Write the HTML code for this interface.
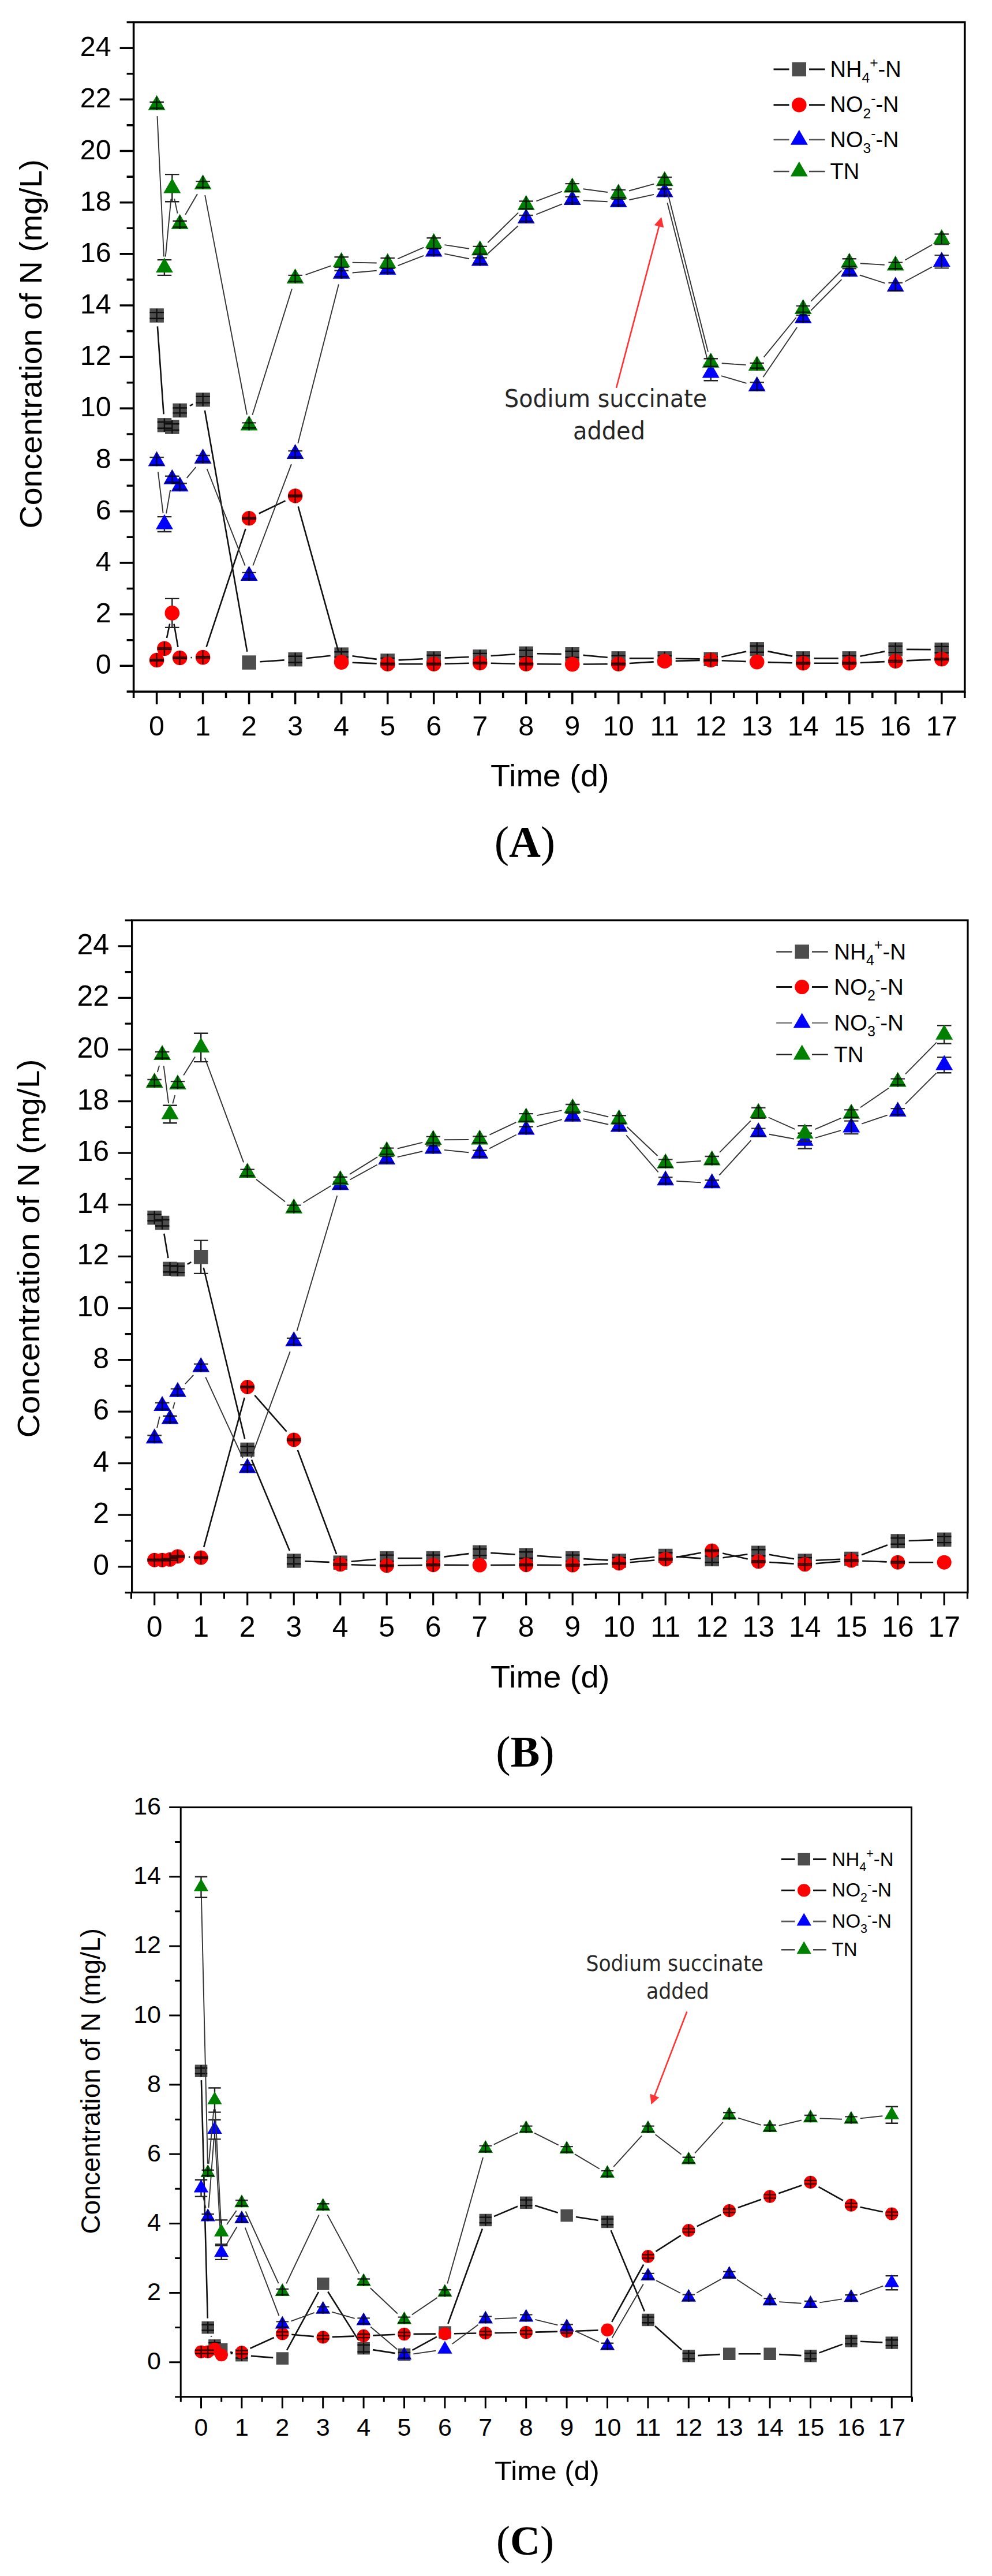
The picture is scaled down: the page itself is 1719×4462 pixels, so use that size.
<!DOCTYPE html>
<html><head><meta charset="utf-8"><title>Concentration of N over time</title>
<style>html,body{margin:0;padding:0;background:#fff}svg{display:block}</style></head>
<body>
<svg width="1719" height="4462" viewBox="0 0 1719 4462" font-family="Liberation Sans, Arial, sans-serif" fill="#000">
<rect width="1719" height="4462" fill="#fff"/>
<path d="M272.9 565.4L283.6 717.4M328.8 702.9L334.4 700.3M354.9 711L428.3 1128.8M450.6 1146.2L492.7 1143.4M530.5 1140.2L572.7 1135.7M610.5 1136.2L652.8 1141.9M690.6 1143.4L732.7 1141.3M770.6 1139.6L812.7 1138M850.6 1136L892.7 1133.2M930.7 1132.2L972.7 1132.9M1010.6 1134.9L1052.8 1138.7M1090.7 1140.4L1132.7 1140.4M1170.7 1140.7L1212.7 1141.4M1250.3 1137.7L1293.2 1128.4M1330.4 1128.1L1373.1 1136.6M1410.7 1140.4L1452.8 1140.4M1490.4 1136.7L1533.1 1128.4M1570.8 1124.9L1612.8 1125.1" stroke="#111" stroke-width="2.6" fill="none"/>
<rect x="259.4" y="534.2" width="24.5" height="24.5" fill="#4d4d4d"/>
<rect x="272.7" y="724.1" width="24.5" height="24.5" fill="#4d4d4d"/>
<rect x="286" y="727.3" width="24.5" height="24.5" fill="#4d4d4d"/>
<rect x="299.4" y="698.7" width="24.5" height="24.5" fill="#4d4d4d"/>
<rect x="339.4" y="680" width="24.5" height="24.5" fill="#4d4d4d"/>
<rect x="419.4" y="1135.3" width="24.5" height="24.5" fill="#4d4d4d"/>
<rect x="499.4" y="1129.9" width="24.5" height="24.5" fill="#4d4d4d"/>
<rect x="579.4" y="1121.4" width="24.5" height="24.5" fill="#4d4d4d"/>
<rect x="659.4" y="1132.1" width="24.5" height="24.5" fill="#4d4d4d"/>
<rect x="739.4" y="1128.1" width="24.5" height="24.5" fill="#4d4d4d"/>
<rect x="819.4" y="1125" width="24.5" height="24.5" fill="#4d4d4d"/>
<rect x="899.4" y="1119.6" width="24.5" height="24.5" fill="#4d4d4d"/>
<rect x="979.4" y="1121" width="24.5" height="24.5" fill="#4d4d4d"/>
<rect x="1059.5" y="1128.1" width="24.5" height="24.5" fill="#4d4d4d"/>
<rect x="1139.5" y="1128.1" width="24.5" height="24.5" fill="#4d4d4d"/>
<rect x="1219.5" y="1129.5" width="24.5" height="24.5" fill="#4d4d4d"/>
<rect x="1299.5" y="1112.1" width="24.5" height="24.5" fill="#4d4d4d"/>
<rect x="1379.5" y="1128.1" width="24.5" height="24.5" fill="#4d4d4d"/>
<rect x="1459.5" y="1128.1" width="24.5" height="24.5" fill="#4d4d4d"/>
<rect x="1539.5" y="1112.5" width="24.5" height="24.5" fill="#4d4d4d"/>
<rect x="1619.5" y="1113" width="24.5" height="24.5" fill="#4d4d4d"/>
<path d="M271.6 534.8V558.1M259.4 541.1H283.9M259.4 551.8H283.9M284.9 724.7V748M272.7 731H297.2M272.7 741.7H297.2M298.3 727.9V751.1M286 734.2H310.5M286 744.9H310.5M311.6 699.3V722.6M299.4 706.5H323.9M299.4 715.4H323.9M351.6 680.6V703.9M339.4 686.9H363.9M339.4 697.6H363.9M511.6 1130.5V1153.8M499.4 1136.8H523.9M499.4 1147.5H523.9M591.6 1122V1145.3M579.4 1129.2H603.9M579.4 1138.1H603.9M671.7 1132.7V1156M659.4 1139.9H683.9M659.4 1148.8H683.9M751.7 1128.7V1152M739.4 1135H763.9M739.4 1145.7H763.9M831.7 1125.6V1148.9M819.4 1131.9H843.9M819.4 1142.6H843.9M911.7 1120.3V1143.5M899.4 1126.5H923.9M899.4 1137.2H923.9M991.7 1121.6V1144.9M979.4 1127.9H1003.9M979.4 1138.6H1003.9M1071.7 1128.7V1152M1059.5 1135.9H1084M1059.5 1144.8H1084M1151.7 1128.7V1152M1139.5 1135.9H1164M1139.5 1144.8H1164M1231.7 1130.1V1153.3M1219.5 1137.2H1244M1219.5 1146.2H1244M1311.7 1112.7V1136M1299.5 1119H1324M1299.5 1129.7H1324M1391.7 1128.7V1152M1379.5 1135.9H1404M1379.5 1144.8H1404M1471.8 1128.7V1152M1459.5 1135.9H1484M1459.5 1144.8H1484M1551.8 1113.1V1136.4M1539.5 1119.4H1564M1539.5 1130.1H1564M1631.8 1113.6V1136.8M1619.5 1119.9H1644M1619.5 1130.6H1644" stroke="#000" stroke-opacity="0.8" stroke-width="2.4" fill="none"/>
<path d="M289 1104.9L294.2 1080.5M301.5 1080.6L308.4 1120.8M330.6 1139.1L332.6 1139M357.6 1120.6L425.6 915.8M448.7 889.5L494.5 867.3M516.7 877.3L586.6 1128.8M610.6 1147.8L652.7 1149.4M690.7 1150.2L732.7 1150.2M770.7 1149.8L812.7 1148.8M850.7 1148.8L892.7 1149.8M930.7 1150.3L972.7 1150.5M1010.7 1150.5L1052.7 1150.3M1090.7 1149L1132.7 1146.4M1170.7 1144.9L1212.7 1143.9M1250.7 1144.2L1292.7 1145.9M1330.7 1147.1L1372.7 1148.3M1410.7 1148.8L1452.8 1148.8M1490.7 1148L1532.8 1146.1M1570.7 1144.4L1612.8 1142.6" stroke="#111" stroke-width="2.6" fill="none"/>
<path d="M298.3 1036.9V1086.9M286 1036.9H310.5M286 1086.9H310.5" stroke="#222" stroke-width="2.4" fill="none"/>
<circle cx="271.6" cy="1143.5" r="12.8" fill="#ff0000"/>
<circle cx="284.9" cy="1123.4" r="12.8" fill="#ff0000"/>
<circle cx="298.3" cy="1061.9" r="12.8" fill="#ff0000"/>
<circle cx="311.6" cy="1139.5" r="12.8" fill="#ff0000"/>
<circle cx="351.6" cy="1138.6" r="12.8" fill="#ff0000"/>
<circle cx="431.6" cy="897.8" r="12.8" fill="#ff0000"/>
<circle cx="511.6" cy="859" r="12.8" fill="#ff0000"/>
<circle cx="591.6" cy="1147.1" r="12.8" fill="#ff0000"/>
<circle cx="671.7" cy="1150.2" r="12.8" fill="#ff0000"/>
<circle cx="751.7" cy="1150.2" r="12.8" fill="#ff0000"/>
<circle cx="831.7" cy="1148.4" r="12.8" fill="#ff0000"/>
<circle cx="911.7" cy="1150.2" r="12.8" fill="#ff0000"/>
<circle cx="991.7" cy="1150.6" r="12.8" fill="#ff0000"/>
<circle cx="1071.7" cy="1150.2" r="12.8" fill="#ff0000"/>
<circle cx="1151.7" cy="1145.3" r="12.8" fill="#ff0000"/>
<circle cx="1231.7" cy="1143.5" r="12.8" fill="#ff0000"/>
<circle cx="1311.7" cy="1146.6" r="12.8" fill="#ff0000"/>
<circle cx="1391.7" cy="1148.8" r="12.8" fill="#ff0000"/>
<circle cx="1471.8" cy="1148.8" r="12.8" fill="#ff0000"/>
<circle cx="1551.8" cy="1145.3" r="12.8" fill="#ff0000"/>
<circle cx="1631.8" cy="1141.7" r="12.8" fill="#ff0000"/>
<path d="M271.6 1131.3V1155.7M259.4 1142.2H283.9M259.4 1144.8H283.9M284.9 1111.3V1135.6M272.7 1122.1H297.2M272.7 1124.8H297.2M311.6 1127.3V1151.6M299.4 1138.1H323.9M299.4 1140.8H323.9M351.6 1126.4V1150.7M339.4 1137.2H363.9M339.4 1139.9H363.9M431.6 885.6V910M419.4 896.5H443.9M419.4 899.1H443.9M511.6 846.8V871.2M499.4 857.7H523.9M499.4 860.3H523.9M671.7 1138V1162.3M659.4 1148.8H683.9M659.4 1151.5H683.9M751.7 1138V1162.3M739.4 1148.8H763.9M739.4 1151.5H763.9M831.7 1136.2V1160.6M819.4 1147.1H843.9M819.4 1149.7H843.9M911.7 1138V1162.3M899.4 1148.8H923.9M899.4 1151.5H923.9M1071.7 1138V1162.3M1059.5 1148.8H1084M1059.5 1151.5H1084M1231.7 1131.3V1155.7M1219.5 1142.2H1244M1219.5 1144.8H1244M1391.7 1136.7V1161M1379.5 1147.5H1404M1379.5 1150.2H1404M1471.8 1136.7V1161M1459.5 1147.5H1484M1459.5 1150.2H1484M1551.8 1133.1V1157.4M1539.5 1143.9H1564M1539.5 1146.6H1564M1631.8 1129.5V1153.9M1619.5 1140.4H1644M1619.5 1143H1644" stroke="#000" stroke-opacity="0.8" stroke-width="2.4" fill="none"/>
<path d="M273.9 817.7L282.6 889.2M288.1 889.3L295.1 848.8M323.7 827.9L339.5 809M358.6 812L424.6 979.6M438.4 979.5L504.9 804.1M516.3 767.9L586.9 492.6M610.6 472.5L652.7 468.7M689.4 460.2L734 442.8M770.3 439.6L813 448.2M845.7 439L897.7 391.2M929.3 371.3L974.1 353.3M1010.7 347.2L1052.7 349.3M1090.3 346.2L1133.1 336.9M1156.4 351.3L1227 627.5M1250 651.2L1293.5 663.8M1322.4 653.3L1381.1 567M1405.1 537.8L1458.4 484.1M1489.8 476.5L1533.7 490.6M1568.5 487.5L1615.1 462.3" stroke="#333" stroke-width="1.9" fill="none"/>
<path d="M284.9 893.3V921M272.7 895.1H297.2M272.7 921H297.2M1231.7 631.2V659.2M1219.5 632.5H1244M1219.5 659.2H1244" stroke="#222" stroke-width="2.4" fill="none"/>
<path d="M271.6 781.5L286.6 807.5L256.6 807.5Z" fill="#0000ff"/>
<path d="M284.9 890.8L299.9 916.7L270 916.7Z" fill="#0000ff"/>
<path d="M298.3 812.7L313.3 838.7L283.3 838.7Z" fill="#0000ff"/>
<path d="M311.6 825.2L326.6 851.2L296.6 851.2Z" fill="#0000ff"/>
<path d="M351.6 777.1L366.6 803L336.6 803Z" fill="#0000ff"/>
<path d="M431.6 979.9L446.6 1005.9L416.6 1005.9Z" fill="#0000ff"/>
<path d="M511.6 769L526.6 795L496.6 795Z" fill="#0000ff"/>
<path d="M591.6 456.9L606.6 482.8L576.7 482.8Z" fill="#0000ff"/>
<path d="M671.7 449.8L686.6 475.7L656.7 475.7Z" fill="#0000ff"/>
<path d="M751.7 418.5L766.6 444.5L736.7 444.5Z" fill="#0000ff"/>
<path d="M831.7 434.6L846.7 460.5L816.7 460.5Z" fill="#0000ff"/>
<path d="M911.7 361L926.7 387L896.7 387Z" fill="#0000ff"/>
<path d="M991.7 328.9L1006.7 354.9L976.7 354.9Z" fill="#0000ff"/>
<path d="M1071.7 332.9L1086.7 358.9L1056.7 358.9Z" fill="#0000ff"/>
<path d="M1151.7 315.5L1166.7 341.5L1136.7 341.5Z" fill="#0000ff"/>
<path d="M1231.7 628.6L1246.7 654.5L1216.7 654.5Z" fill="#0000ff"/>
<path d="M1311.7 651.8L1326.7 677.7L1296.7 677.7Z" fill="#0000ff"/>
<path d="M1391.7 534L1406.7 560L1376.8 560Z" fill="#0000ff"/>
<path d="M1471.8 453.3L1486.7 479.3L1456.8 479.3Z" fill="#0000ff"/>
<path d="M1551.8 479.2L1566.7 505.1L1536.8 505.1Z" fill="#0000ff"/>
<path d="M1631.8 435.9L1646.8 461.9L1616.8 461.9Z" fill="#0000ff"/>
<path d="M271.6 784.1V807.5M259.4 792.1H283.9M259.4 805.5H283.9M298.3 815.3V838.7M286 824.7H310.5M286 835.4H310.5M311.6 827.8V851.2M299.4 837.2H323.9M299.4 847.9H323.9M351.6 779.6V803M339.4 789H363.9M339.4 799.7H363.9M431.6 982.5V1005.9M419.4 991.9H443.9M419.4 1002.6H443.9M511.6 771.6V795M499.4 781H523.9M499.4 791.7H523.9M591.6 459.5V482.8M579.4 468.8H603.9M579.4 479.5H603.9M671.7 452.4V475.7M659.4 461.7H683.9M659.4 472.4H683.9M751.7 421.1V444.5M739.4 430.5H763.9M739.4 441.2H763.9M831.7 437.2V460.5M819.4 446.5H843.9M819.4 457.3H843.9M911.7 363.6V387M899.4 373H923.9M899.4 383.7H923.9M991.7 331.5V354.9M979.4 340.9H1003.9M979.4 351.6H1003.9M1071.7 335.5V358.9M1059.5 344.9H1084M1059.5 355.6H1084M1151.7 318.1V341.5M1139.5 327.5H1164M1139.5 338.2H1164M1311.7 654.3V677.7M1299.5 662.4H1324M1299.5 675.7H1324M1391.7 536.6V560M1379.5 546H1404M1379.5 556.7H1404M1471.8 455.9V479.3M1459.5 465.3H1484M1459.5 476H1484M1551.8 481.8V505.1M1539.5 489.8H1564M1539.5 503.2H1564M1631.8 438.5V464.4M1619.5 442.1H1644M1619.5 464.4H1644" stroke="#000" stroke-opacity="0.8" stroke-width="2.4" fill="none"/>
<path d="M272.5 201.1L284 444.5M286.8 444.6L296.4 344.6M302.2 344.3L307.6 369.6M321.2 371.7L342 335.9M355.2 338.1L428 718.2M437.3 718.7L505.9 500.3M529.6 475.9L573.7 460.4M610.6 454.6L652.7 455.5M689.1 448.3L734.2 428.7M770.4 424.1L812.9 430.7M845.2 420.3L898.1 368.4M929.4 348.4L973.9 331.6M1010.5 327.3L1052.9 333M1090 330.5L1133.4 318.7M1156.4 332.1L1227 609.6M1250.7 629.3L1292.8 632.1M1323.7 618.7L1379.7 550M1405.2 521.8L1458.3 468.5M1490.7 456.2L1532.8 458.8M1568.3 450.5L1615.3 423.8" stroke="#333" stroke-width="1.9" fill="none"/>
<path d="M284.9 448.8V476.9M272.7 450.1H297.2M272.7 476.9H297.2M298.3 302.1V349.3M286 302.1H310.5M286 349.3H310.5" stroke="#222" stroke-width="2.4" fill="none"/>
<path d="M271.6 164.8L286.6 190.8L256.6 190.8Z" fill="#008000"/>
<path d="M284.9 446.2L299.9 472.1L270 472.1Z" fill="#008000"/>
<path d="M298.3 308.4L313.3 334.4L283.3 334.4Z" fill="#008000"/>
<path d="M311.6 370.8L326.6 396.8L296.6 396.8Z" fill="#008000"/>
<path d="M351.6 302.2L366.6 328.1L336.6 328.1Z" fill="#008000"/>
<path d="M431.6 719.5L446.6 745.5L416.6 745.5Z" fill="#008000"/>
<path d="M511.6 464.9L526.6 490.9L496.6 490.9Z" fill="#008000"/>
<path d="M591.6 436.8L606.6 462.8L576.7 462.8Z" fill="#008000"/>
<path d="M671.7 438.6L686.6 464.6L656.7 464.6Z" fill="#008000"/>
<path d="M751.7 403.8L766.6 429.8L736.7 429.8Z" fill="#008000"/>
<path d="M831.7 416.3L846.7 442.3L816.7 442.3Z" fill="#008000"/>
<path d="M911.7 337.8L926.7 363.8L896.7 363.8Z" fill="#008000"/>
<path d="M991.7 307.5L1006.7 333.5L976.7 333.5Z" fill="#008000"/>
<path d="M1071.7 318.2L1086.7 344.2L1056.7 344.2Z" fill="#008000"/>
<path d="M1151.7 296.4L1166.7 322.3L1136.7 322.3Z" fill="#008000"/>
<path d="M1231.7 610.7L1246.7 636.7L1216.7 636.7Z" fill="#008000"/>
<path d="M1311.7 616.1L1326.7 642L1296.7 642Z" fill="#008000"/>
<path d="M1391.7 518L1406.7 543.9L1376.8 543.9Z" fill="#008000"/>
<path d="M1471.8 437.7L1486.7 463.7L1456.8 463.7Z" fill="#008000"/>
<path d="M1551.8 442.6L1566.7 468.6L1536.8 468.6Z" fill="#008000"/>
<path d="M1631.8 397.1L1646.8 423.1L1616.8 423.1Z" fill="#008000"/>
<path d="M271.6 167.4V190.8M259.4 176.8H283.9M259.4 187.5H283.9M311.6 373.4V396.8M299.4 382.8H323.9M299.4 393.5H323.9M351.6 304.8V328.1M339.4 314.1H363.9M339.4 324.8H363.9M431.6 722.1V745.5M419.4 732.4H443.9M419.4 741.3H443.9M511.6 467.5V490.9M499.4 476.9H523.9M499.4 487.6H523.9M591.6 439.4V463M579.4 445.2H603.9M579.4 463H603.9M671.7 441.2V464.8M659.4 447H683.9M659.4 464.8H683.9M751.7 406.4V430.1M739.4 412.2H763.9M739.4 430.1H763.9M831.7 418.9V442.3M819.4 426.9H843.9M819.4 440.3H843.9M911.7 340.4V363.8M899.4 348.5H923.9M899.4 361.8H923.9M991.7 310.1V333.5M979.4 318.1H1003.9M979.4 331.5H1003.9M1071.7 320.8V344.2M1059.5 328.8H1084M1059.5 342.2H1084M1151.7 299V322.3M1139.5 307H1164M1139.5 320.4H1164M1231.7 613.3V636.7M1219.5 621.3H1244M1219.5 634.7H1244M1311.7 618.7V642M1299.5 628.9H1324M1299.5 637.8H1324M1391.7 520.6V543.9M1379.5 529.9H1404M1379.5 540.6H1404M1471.8 440.3V463.7M1459.5 448.3H1484M1459.5 461.7H1484M1551.8 445.2V468.6M1539.5 454.6H1564M1539.5 465.3H1564M1631.8 399.7V423.4M1619.5 405.5H1644M1619.5 423.4H1644" stroke="#000" stroke-opacity="0.8" stroke-width="2.4" fill="none"/>
<rect x="231.6" y="38.5" width="1440.2" height="1159.5" fill="none" stroke="#000" stroke-width="3.6"/>
<path d="M207.6 1153.3H231.6M207.6 1064.1H231.6M207.6 974.9H231.6M207.6 885.8H231.6M207.6 796.6H231.6M207.6 707.4H231.6M207.6 618.2H231.6M207.6 529H231.6M207.6 439.9H231.6M207.6 350.7H231.6M207.6 261.5H231.6M207.6 172.3H231.6M207.6 83.1H231.6M219.6 1197.9H231.6M219.6 1108.7H231.6M219.6 1019.5H231.6M219.6 930.3H231.6M219.6 841.2H231.6M219.6 752H231.6M219.6 662.8H231.6M219.6 573.6H231.6M219.6 484.4H231.6M219.6 395.3H231.6M219.6 306.1H231.6M219.6 216.9H231.6M219.6 127.7H231.6M219.6 38.5H231.6M271.6 1198V1220M351.6 1198V1220M431.6 1198V1220M511.6 1198V1220M591.6 1198V1220M671.7 1198V1220M751.7 1198V1220M831.7 1198V1220M911.7 1198V1220M991.7 1198V1220M1071.7 1198V1220M1151.7 1198V1220M1231.7 1198V1220M1311.7 1198V1220M1391.7 1198V1220M1471.8 1198V1220M1551.8 1198V1220M1631.8 1198V1220M231.6 1198V1209M311.6 1198V1209M391.6 1198V1209M471.6 1198V1209M551.6 1198V1209M631.6 1198V1209M711.7 1198V1209M791.7 1198V1209M871.7 1198V1209M951.7 1198V1209M1031.7 1198V1209M1111.7 1198V1209M1191.7 1198V1209M1271.7 1198V1209M1351.7 1198V1209M1431.7 1198V1209M1511.8 1198V1209M1591.8 1198V1209M1671.8 1198V1209" stroke="#000" stroke-width="3.6" fill="none"/>
<text x="192.8" y="1167.3" font-size="48.5" text-anchor="end">0</text>
<text x="192.8" y="1078.1" font-size="48.5" text-anchor="end">2</text>
<text x="192.8" y="988.9" font-size="48.5" text-anchor="end">4</text>
<text x="192.8" y="899.8" font-size="48.5" text-anchor="end">6</text>
<text x="192.8" y="810.6" font-size="48.5" text-anchor="end">8</text>
<text x="192.8" y="721.4" font-size="48.5" text-anchor="end">10</text>
<text x="192.8" y="632.2" font-size="48.5" text-anchor="end">12</text>
<text x="192.8" y="543" font-size="48.5" text-anchor="end">14</text>
<text x="192.8" y="453.9" font-size="48.5" text-anchor="end">16</text>
<text x="192.8" y="364.7" font-size="48.5" text-anchor="end">18</text>
<text x="192.8" y="275.5" font-size="48.5" text-anchor="end">20</text>
<text x="192.8" y="186.3" font-size="48.5" text-anchor="end">22</text>
<text x="192.8" y="97.1" font-size="48.5" text-anchor="end">24</text>
<text x="271.6" y="1273.8" font-size="48.5" text-anchor="middle">0</text>
<text x="351.6" y="1273.8" font-size="48.5" text-anchor="middle">1</text>
<text x="431.6" y="1273.8" font-size="48.5" text-anchor="middle">2</text>
<text x="511.6" y="1273.8" font-size="48.5" text-anchor="middle">3</text>
<text x="591.6" y="1273.8" font-size="48.5" text-anchor="middle">4</text>
<text x="671.7" y="1273.8" font-size="48.5" text-anchor="middle">5</text>
<text x="751.7" y="1273.8" font-size="48.5" text-anchor="middle">6</text>
<text x="831.7" y="1273.8" font-size="48.5" text-anchor="middle">7</text>
<text x="911.7" y="1273.8" font-size="48.5" text-anchor="middle">8</text>
<text x="991.7" y="1273.8" font-size="48.5" text-anchor="middle">9</text>
<text x="1071.7" y="1273.8" font-size="48.5" text-anchor="middle">10</text>
<text x="1151.7" y="1273.8" font-size="48.5" text-anchor="middle">11</text>
<text x="1231.7" y="1273.8" font-size="48.5" text-anchor="middle">12</text>
<text x="1311.7" y="1273.8" font-size="48.5" text-anchor="middle">13</text>
<text x="1391.7" y="1273.8" font-size="48.5" text-anchor="middle">14</text>
<text x="1471.8" y="1273.8" font-size="48.5" text-anchor="middle">15</text>
<text x="1551.8" y="1273.8" font-size="48.5" text-anchor="middle">16</text>
<text x="1631.8" y="1273.8" font-size="48.5" text-anchor="middle">17</text>
<path d="M1340.5 120.1H1367.5M1402 120.1H1429.6" stroke="#111" stroke-width="3.0"/>
<rect x="1372.5" y="107.8" width="24.5" height="24.5" fill="#4d4d4d"/>
<text x="1438.5" y="132.7" font-size="38">NH<tspan font-size="24.7" dy="10.3">4</tspan><tspan font-size="24.7" dy="-26.2">+</tspan><tspan dy="16">-N</tspan></text>
<path d="M1340.5 181.7H1367.5M1402 181.7H1429.6" stroke="#111" stroke-width="3.0"/>
<circle cx="1384.8" cy="181.7" r="12.8" fill="#ff0000"/>
<text x="1438.5" y="194.3" font-size="38">NO<tspan font-size="24.7" dy="10.3">2</tspan><tspan font-size="24.7" dy="-26.2">-</tspan><tspan dy="16">-N</tspan></text>
<path d="M1340.5 242H1367.5M1402 242H1429.6" stroke="#555" stroke-width="2.6"/>
<path d="M1384.8 224.7L1399.8 250.7L1369.8 250.7Z" fill="#0000ff"/>
<text x="1438.5" y="254.6" font-size="38">NO<tspan font-size="24.7" dy="10.3">3</tspan><tspan font-size="24.7" dy="-26.2">-</tspan><tspan dy="16">-N</tspan></text>
<path d="M1340.5 297H1367.5M1402 297H1429.6" stroke="#444" stroke-width="2.4"/>
<path d="M1384.8 279.7L1399.8 305.6L1369.8 305.6Z" fill="#008000"/>
<text x="1438.5" y="309.6" font-size="38">TN</text>
<text transform="translate(72.4 915.5) rotate(-90)" font-size="54" textLength="639.4" lengthAdjust="spacingAndGlyphs">Concentration of N (mg/L)</text>
<text x="850" y="1362.4" font-size="54" textLength="205.5" lengthAdjust="spacingAndGlyphs">Time (d)</text>
<text x="909.4" y="1484" font-size="76" font-family="Liberation Serif, serif" text-anchor="middle">(<tspan font-weight="bold">A</tspan>)</text>
<text x="874.1" y="704.5" font-size="42" font-family="DejaVu Sans, sans-serif" fill="#262626" textLength="350.9" lengthAdjust="spacingAndGlyphs">Sodium succinate</text>
<text x="993" y="761" font-size="42" font-family="DejaVu Sans, sans-serif" fill="#262626" textLength="125" lengthAdjust="spacingAndGlyphs">added</text>
<path d="M1068 671.8L1142.5 390.1" stroke="#ff3333" stroke-width="2.6"/>
<path d="M1146.2 376.1L1150.2 394.2L1133.8 389.9Z" fill="#ff3333"/>
<path d="M284.3 2136.8L291.4 2179.1M324.7 2189.8L331.4 2186.2M352.7 2195.7L424.2 2492.4M436 2528.4L501.9 2686M528.2 2704.2L570.7 2705.9M608.6 2704.8L651.3 2700.8M689.2 2699L731.7 2699M769.5 2696.6L812.4 2691.1M850.2 2689.9L892.7 2692.5M930.7 2694.9L973.2 2697.8M1011.2 2700.1L1053.7 2702.4M1091.6 2701.5L1134.3 2697M1172.2 2696.4L1214.7 2699.4M1252.5 2698.2L1295.4 2692.2M1332.9 2692.8L1376 2700.3M1413.7 2702.7L1456.2 2700.8M1493 2693.2L1537.9 2676.2M1574.7 2668.8L1617.2 2667.4" stroke="#111" stroke-width="2.6" fill="none"/>
<path d="M348.2 2148.6V2205.9M335.9 2148.6H360.4M335.9 2205.9H360.4" stroke="#222" stroke-width="2.4" fill="none"/>
<rect x="255.4" y="2096.9" width="24.5" height="24.5" fill="#4d4d4d"/>
<rect x="268.9" y="2105.8" width="24.5" height="24.5" fill="#4d4d4d"/>
<rect x="282.3" y="2185.6" width="24.5" height="24.5" fill="#4d4d4d"/>
<rect x="295.7" y="2186.5" width="24.5" height="24.5" fill="#4d4d4d"/>
<rect x="335.9" y="2165" width="24.5" height="24.5" fill="#4d4d4d"/>
<rect x="416.4" y="2498.7" width="24.5" height="24.5" fill="#4d4d4d"/>
<rect x="496.9" y="2691.2" width="24.5" height="24.5" fill="#4d4d4d"/>
<rect x="577.5" y="2694.4" width="24.5" height="24.5" fill="#4d4d4d"/>
<rect x="658" y="2686.8" width="24.5" height="24.5" fill="#4d4d4d"/>
<rect x="738.5" y="2686.8" width="24.5" height="24.5" fill="#4d4d4d"/>
<rect x="819" y="2676.5" width="24.5" height="24.5" fill="#4d4d4d"/>
<rect x="899.5" y="2681.4" width="24.5" height="24.5" fill="#4d4d4d"/>
<rect x="980" y="2686.8" width="24.5" height="24.5" fill="#4d4d4d"/>
<rect x="1060.5" y="2691.2" width="24.5" height="24.5" fill="#4d4d4d"/>
<rect x="1141" y="2682.7" width="24.5" height="24.5" fill="#4d4d4d"/>
<rect x="1221.5" y="2688.6" width="24.5" height="24.5" fill="#4d4d4d"/>
<rect x="1302" y="2677.4" width="24.5" height="24.5" fill="#4d4d4d"/>
<rect x="1382.5" y="2691.2" width="24.5" height="24.5" fill="#4d4d4d"/>
<rect x="1463" y="2687.7" width="24.5" height="24.5" fill="#4d4d4d"/>
<rect x="1543.5" y="2657.2" width="24.5" height="24.5" fill="#4d4d4d"/>
<rect x="1624" y="2654.5" width="24.5" height="24.5" fill="#4d4d4d"/>
<path d="M267.7 2097.5V2120.8M255.4 2103.8H279.9M255.4 2114.5H279.9M281.1 2106.5V2129.7M268.9 2112.7H293.4M268.9 2123.5H293.4M294.5 2186.2V2209.5M282.3 2192.4H306.8M282.3 2203.2H306.8M307.9 2187.1V2210.4M295.7 2193.3H320.2M295.7 2204.1H320.2M428.7 2499.3V2522.5M416.4 2505.5H440.9M416.4 2516.3H440.9M509.2 2691.9V2715.1M496.9 2698.1H521.5M496.9 2708.9H521.5M589.7 2695V2718.3M577.5 2702.2H602M577.5 2711.1H602M670.2 2687.4V2710.7M658 2693.6H682.5M658 2704.4H682.5M750.7 2687.4V2710.7M738.5 2693.6H763M738.5 2704.4H763M831.2 2677.1V2700.4M819 2683.3H843.5M819 2694.1H843.5M911.7 2682V2705.3M899.5 2688.3H924M899.5 2699H924M992.2 2687.4V2710.7M980 2693.6H1004.5M980 2704.4H1004.5M1072.7 2691.9V2715.1M1060.5 2698.1H1085M1060.5 2708.9H1085M1153.2 2683.4V2706.6M1141 2689.6H1165.5M1141 2700.4H1165.5M1233.7 2689.2V2712.4M1221.5 2695.4H1246M1221.5 2706.2H1246M1314.2 2678V2701.3M1302 2684.2H1326.5M1302 2695H1326.5M1394.7 2691.9V2715.1M1382.5 2698.1H1407M1382.5 2708.9H1407M1475.2 2688.3V2711.6M1463 2694.5H1487.5M1463 2705.3H1487.5M1555.7 2657.8V2681.1M1543.5 2664.1H1568M1543.5 2674.8H1568M1636.2 2655.1V2678.4M1624 2661.4H1648.5M1624 2672.1H1648.5" stroke="#000" stroke-opacity="0.8" stroke-width="2.4" fill="none"/>
<path d="M326.9 2696.9L329.2 2697.1M353.2 2679.8L423.7 2420.8M441.3 2416.8L496.6 2479.6M515.8 2511.7L583.1 2692M608.7 2710.3L651.2 2711.5M689.2 2711.7L731.7 2711M769.7 2710.8L812.2 2711M850.2 2711L892.7 2710.8M930.7 2710.8L973.2 2711M1011.2 2710.4L1053.7 2708.7M1091.6 2706.3L1134.3 2702.5M1171.9 2697.4L1215 2689.5M1252.2 2690.4L1295.7 2700.5M1333.2 2706L1375.7 2708.6M1413.6 2708.2L1456.3 2704.6M1494.2 2703.8L1536.7 2705.4M1574.7 2706.2L1617.2 2706.2" stroke="#111" stroke-width="2.6" fill="none"/>
<circle cx="267.7" cy="2702.2" r="12.5" fill="#ff0000"/>
<circle cx="281.1" cy="2702.2" r="12.5" fill="#ff0000"/>
<circle cx="294.5" cy="2701.3" r="12.5" fill="#ff0000"/>
<circle cx="307.9" cy="2695.9" r="12.5" fill="#ff0000"/>
<circle cx="348.2" cy="2698.1" r="12.5" fill="#ff0000"/>
<circle cx="428.7" cy="2402.5" r="12.5" fill="#ff0000"/>
<circle cx="509.2" cy="2493.9" r="12.5" fill="#ff0000"/>
<circle cx="589.7" cy="2709.8" r="12.5" fill="#ff0000"/>
<circle cx="670.2" cy="2712" r="12.5" fill="#ff0000"/>
<circle cx="750.7" cy="2710.7" r="12.5" fill="#ff0000"/>
<circle cx="831.2" cy="2711.1" r="12.5" fill="#ff0000"/>
<circle cx="911.7" cy="2710.7" r="12.5" fill="#ff0000"/>
<circle cx="992.2" cy="2711.1" r="12.5" fill="#ff0000"/>
<circle cx="1072.7" cy="2708" r="12.5" fill="#ff0000"/>
<circle cx="1153.2" cy="2700.8" r="12.5" fill="#ff0000"/>
<circle cx="1233.7" cy="2686" r="12.5" fill="#ff0000"/>
<circle cx="1314.2" cy="2704.8" r="12.5" fill="#ff0000"/>
<circle cx="1394.7" cy="2709.8" r="12.5" fill="#ff0000"/>
<circle cx="1475.2" cy="2703.1" r="12.5" fill="#ff0000"/>
<circle cx="1555.7" cy="2706.2" r="12.5" fill="#ff0000"/>
<circle cx="1636.2" cy="2706.2" r="12.5" fill="#ff0000"/>
<path d="M267.7 2690.3V2714M255.4 2700.8H279.9M255.4 2703.5H279.9M281.1 2690.3V2714M268.9 2700.8H293.4M268.9 2703.5H293.4M294.5 2689.4V2713.1M282.3 2699.9H306.8M282.3 2702.6H306.8M307.9 2684V2707.8M295.7 2694.5H320.2M295.7 2697.2H320.2M348.2 2686.2V2710M335.9 2696.8H360.4M335.9 2699.5H360.4M428.7 2390.6V2414.4M416.4 2401.2H440.9M416.4 2403.9H440.9M509.2 2482V2505.8M496.9 2492.5H521.5M496.9 2495.2H521.5M589.7 2697.9V2721.6M577.5 2708.4H602M577.5 2711.1H602M670.2 2700.1V2723.9M658 2710.7H682.5M658 2713.4H682.5M750.7 2698.8V2722.5M738.5 2709.3H763M738.5 2712H763M911.7 2698.8V2722.5M899.5 2709.3H924M899.5 2712H924M992.2 2699.2V2723M980 2709.8H1004.5M980 2712.5H1004.5M1072.7 2696.1V2719.9M1060.5 2706.6H1085M1060.5 2709.3H1085M1153.2 2688.9V2712.7M1141 2699.5H1165.5M1141 2702.2H1165.5M1233.7 2674.2V2697.9M1221.5 2684.7H1246M1221.5 2687.4H1246M1314.2 2693V2716.7M1302 2703.5H1326.5M1302 2706.2H1326.5M1394.7 2697.9V2721.6M1382.5 2708.4H1407M1382.5 2711.1H1407M1475.2 2691.2V2714.9M1463 2701.7H1487.5M1463 2704.4H1487.5M1555.7 2694.3V2718.1M1543.5 2704.8H1568M1543.5 2707.5H1568" stroke="#000" stroke-opacity="0.8" stroke-width="2.4" fill="none"/>
<path d="M272.1 2473.2L276.7 2453.7M299.7 2439.8L302.7 2429.3M320.9 2397.1L335.2 2381.9M356.2 2385.3L420.7 2525.4M435.2 2524.9L502.7 2341.1M514.6 2305L584.3 2070.9M606.3 2043.5L653.6 2017.5M688.7 2004.1L732.2 1994.2M769.6 1991.9L812.3 1996.2M848.1 1989.4L894.8 1965.5M930 1951.7L973.9 1939.2M1010.7 1938.1L1054.2 1947.8M1085.2 1966.3L1140.7 2030.3M1172.2 2045.8L1214.7 2048.4M1246.5 2035.5L1301.4 1975.4M1332.9 1964.8L1376 1972.7M1413 1970.8L1456.9 1958.1M1493.2 1946.7L1537.7 1931.6M1569.1 1912.1L1622.8 1858.3" stroke="#333" stroke-width="1.9" fill="none"/>
<path d="M1394.7 1961.4V1989.5M1382.5 1962.7H1407M1382.5 1989.5H1407M1636.2 1830.2V1858.3M1624 1831.4H1648.5M1624 1858.3H1648.5" stroke="#222" stroke-width="2.4" fill="none"/>
<path d="M267.7 2474.3L282.7 2500.3L252.7 2500.3Z" fill="#0000ff"/>
<path d="M281.1 2417.9L296.1 2443.9L266.1 2443.9Z" fill="#0000ff"/>
<path d="M294.5 2440.7L309.5 2466.7L279.6 2466.7Z" fill="#0000ff"/>
<path d="M307.9 2393.7L322.9 2419.7L293 2419.7Z" fill="#0000ff"/>
<path d="M348.2 2350.7L363.2 2376.7L333.2 2376.7Z" fill="#0000ff"/>
<path d="M428.7 2525.4L443.7 2551.4L413.7 2551.4Z" fill="#0000ff"/>
<path d="M509.2 2305.9L524.2 2331.9L494.2 2331.9Z" fill="#0000ff"/>
<path d="M589.7 2035.4L604.7 2061.3L574.7 2061.3Z" fill="#0000ff"/>
<path d="M670.2 1991.1L685.2 2017L655.2 2017Z" fill="#0000ff"/>
<path d="M750.7 1972.7L765.7 1998.6L735.7 1998.6Z" fill="#0000ff"/>
<path d="M831.2 1980.8L846.2 2006.7L816.2 2006.7Z" fill="#0000ff"/>
<path d="M911.7 1939.5L926.7 1965.5L896.7 1965.5Z" fill="#0000ff"/>
<path d="M992.2 1916.7L1007.2 1942.7L977.2 1942.7Z" fill="#0000ff"/>
<path d="M1072.7 1934.6L1087.7 1960.6L1057.7 1960.6Z" fill="#0000ff"/>
<path d="M1153.2 2027.3L1168.2 2053.3L1138.2 2053.3Z" fill="#0000ff"/>
<path d="M1233.7 2032.3L1248.7 2058.2L1218.7 2058.2Z" fill="#0000ff"/>
<path d="M1314.2 1944L1329.2 1970L1299.2 1970Z" fill="#0000ff"/>
<path d="M1394.7 1958.8L1409.7 1984.8L1379.7 1984.8Z" fill="#0000ff"/>
<path d="M1475.2 1935.5L1490.2 1961.5L1460.2 1961.5Z" fill="#0000ff"/>
<path d="M1555.7 1908.2L1570.7 1934.1L1540.7 1934.1Z" fill="#0000ff"/>
<path d="M1636.2 1827.6L1651.2 1853.5L1621.2 1853.5Z" fill="#0000ff"/>
<path d="M267.7 2476.9V2500.3M255.4 2486.3H279.9M255.4 2497H279.9M281.1 2420.5V2443.9M268.9 2429.8H293.4M268.9 2440.6H293.4M294.5 2443.3V2466.7M282.3 2452.7H306.8M282.3 2463.4H306.8M307.9 2396.3V2419.7M295.7 2405.6H320.2M295.7 2416.4H320.2M348.2 2353.3V2376.7M335.9 2362.6H360.4M335.9 2373.4H360.4M428.7 2528V2551.4M416.4 2537.3H440.9M416.4 2548.1H440.9M509.2 2308.5V2331.9M496.9 2317.9H521.5M496.9 2328.6H521.5M589.7 2038V2061.3M577.5 2047.3H602M577.5 2058.1H602M670.2 1993.7V2017M658 2003H682.5M658 2013.7H682.5M750.7 1975.3V1998.6M738.5 1984.6H763M738.5 1995.4H763M831.2 1983.4V2006.7M819 1992.7H843.5M819 2003.4H843.5M911.7 1942.1V1965.5M899.5 1951.5H924M899.5 1962.2H924M992.2 1919.3V1942.7M980 1928.6H1004.5M980 1939.4H1004.5M1072.7 1937.2V1960.6M1060.5 1946.5H1085M1060.5 1957.3H1085M1153.2 2029.9V2053.3M1141 2039.3H1165.5M1141 2050H1165.5M1233.7 2034.9V2058.2M1221.5 2044.2H1246M1221.5 2054.9H1246M1314.2 1946.6V1970M1302 1954.6H1326.5M1302 1968H1326.5M1475.2 1938.1V1964M1463 1941.6H1487.5M1463 1964H1487.5M1555.7 1910.8V1934.1M1543.5 1920.1H1568M1543.5 1930.9H1568" stroke="#000" stroke-opacity="0.8" stroke-width="2.4" fill="none"/>
<path d="M272.8 1857L276 1845.7M283.6 1846.2L292.1 1911.1M299.3 1911.6L303.2 1896.9M318.1 1862.4L338.1 1830.5M354.8 1832.2L422.1 2013.4M443.8 2042.8L494.1 2081.4M525.4 2083.2L573.5 2054M605.8 2034.1L654.1 2004.1M688.7 1989.5L732.2 1978.8M769.7 1974.2L812.2 1974M848.4 1965.7L894.5 1943.9M930.3 1932.1L973.6 1923.4M1010.7 1924.1L1054.2 1934.5M1086.5 1952L1139.4 2002M1172.2 2013.8L1214.7 2011M1247 1996.1L1300.9 1941.3M1331.6 1935.5L1377.3 1955.8M1412.2 1956.1L1457.7 1936.6M1490.9 1918.3L1540 1884.7M1569 1860.4L1622.9 1805.6" stroke="#333" stroke-width="1.9" fill="none"/>
<path d="M294.5 1914.7V1945.2M282.3 1914.7H306.8M282.3 1945.2H306.8M348.2 1789.8V1839.1M335.9 1789.8H360.4M335.9 1839.1H360.4M1394.7 1948.9V1977M1382.5 1950.1H1407M1382.5 1977H1407M1636.2 1776.3V1807.7M1624 1776.3H1648.5M1624 1807.7H1648.5" stroke="#222" stroke-width="2.4" fill="none"/>
<path d="M267.7 1858L282.7 1884L252.7 1884Z" fill="#008000"/>
<path d="M281.1 1810.1L296.1 1836.1L266.1 1836.1Z" fill="#008000"/>
<path d="M294.5 1912.7L309.5 1938.6L279.6 1938.6Z" fill="#008000"/>
<path d="M307.9 1861.2L322.9 1887.1L293 1887.1Z" fill="#008000"/>
<path d="M348.2 1797.1L363.2 1823.1L333.2 1823.1Z" fill="#008000"/>
<path d="M428.7 2013.9L443.7 2039.9L413.7 2039.9Z" fill="#008000"/>
<path d="M509.2 2075.7L524.2 2101.7L494.2 2101.7Z" fill="#008000"/>
<path d="M589.7 2026.9L604.7 2052.8L574.7 2052.8Z" fill="#008000"/>
<path d="M670.2 1976.7L685.2 2002.7L655.2 2002.7Z" fill="#008000"/>
<path d="M750.7 1957L765.7 1983L735.7 1983Z" fill="#008000"/>
<path d="M831.2 1956.6L846.2 1982.5L816.2 1982.5Z" fill="#008000"/>
<path d="M911.7 1918.5L926.7 1944.4L896.7 1944.4Z" fill="#008000"/>
<path d="M992.2 1902.4L1007.2 1928.3L977.2 1928.3Z" fill="#008000"/>
<path d="M1072.7 1921.6L1087.7 1947.6L1057.7 1947.6Z" fill="#008000"/>
<path d="M1153.2 1997.8L1168.2 2023.7L1138.2 2023.7Z" fill="#008000"/>
<path d="M1233.7 1992.4L1248.7 2018.4L1218.7 2018.4Z" fill="#008000"/>
<path d="M1314.2 1910.4L1329.2 1936.4L1299.2 1936.4Z" fill="#008000"/>
<path d="M1394.7 1946.3L1409.7 1972.2L1379.7 1972.2Z" fill="#008000"/>
<path d="M1475.2 1911.8L1490.2 1937.7L1460.2 1937.7Z" fill="#008000"/>
<path d="M1555.7 1856.7L1570.7 1882.6L1540.7 1882.6Z" fill="#008000"/>
<path d="M1636.2 1774.7L1651.2 1800.7L1621.2 1800.7Z" fill="#008000"/>
<path d="M267.7 1860.6V1884M255.4 1870H279.9M255.4 1880.7H279.9M281.1 1812.7V1836.1M268.9 1822H293.4M268.9 1832.8H293.4M307.9 1863.8V1887.1M295.7 1873.1H320.2M295.7 1883.8H320.2M428.7 2016.5V2039.9M416.4 2025.8H440.9M416.4 2036.6H440.9M509.2 2078.3V2101.7M496.9 2087.6H521.5M496.9 2098.4H521.5M589.7 2029.5V2052.8M577.5 2038.8H602M577.5 2049.6H602M670.2 1979.3V2002.7M658 1988.6H682.5M658 1999.4H682.5M750.7 1959.6V1983M738.5 1968.9H763M738.5 1979.7H763M831.2 1959.2V1982.5M819 1968.5H843.5M819 1979.2H843.5M911.7 1921.1V1944.4M899.5 1929.1H924M899.5 1942.5H924M992.2 1905V1928.3M980 1913H1004.5M980 1926.4H1004.5M1072.7 1924.2V1947.6M1060.5 1932.2H1085M1060.5 1945.7H1085M1153.2 2000.4V2023.7M1141 2008.4H1165.5M1141 2021.8H1165.5M1233.7 1995V2018.4M1221.5 2003H1246M1221.5 2016.4H1246M1314.2 1913V1936.7M1302 1918.8H1326.5M1302 1936.7H1326.5M1475.2 1914.4V1937.7M1463 1922.4H1487.5M1463 1935.8H1487.5M1555.7 1859.3V1882.6M1543.5 1868.6H1568M1543.5 1879.4H1568" stroke="#000" stroke-opacity="0.8" stroke-width="2.4" fill="none"/>
<rect x="228.6" y="1594" width="1448.4" height="1164.4" fill="none" stroke="#000" stroke-width="3.2"/>
<path d="M204.6 2713.8H228.6M204.6 2624.2H228.6M204.6 2534.6H228.6M204.6 2445.1H228.6M204.6 2355.5H228.6M204.6 2265.9H228.6M204.6 2176.3H228.6M204.6 2086.7H228.6M204.6 1997.2H228.6M204.6 1907.6H228.6M204.6 1818H228.6M204.6 1728.4H228.6M204.6 1638.8H228.6M216.6 2758.6H228.6M216.6 2669H228.6M216.6 2579.4H228.6M216.6 2489.9H228.6M216.6 2400.3H228.6M216.6 2310.7H228.6M216.6 2221.1H228.6M216.6 2131.5H228.6M216.6 2042H228.6M216.6 1952.4H228.6M216.6 1862.8H228.6M216.6 1773.2H228.6M216.6 1683.6H228.6M216.6 1594.1H228.6M267.7 2758.4V2780.4M348.2 2758.4V2780.4M428.7 2758.4V2780.4M509.2 2758.4V2780.4M589.7 2758.4V2780.4M670.2 2758.4V2780.4M750.7 2758.4V2780.4M831.2 2758.4V2780.4M911.7 2758.4V2780.4M992.2 2758.4V2780.4M1072.7 2758.4V2780.4M1153.2 2758.4V2780.4M1233.7 2758.4V2780.4M1314.2 2758.4V2780.4M1394.7 2758.4V2780.4M1475.2 2758.4V2780.4M1555.7 2758.4V2780.4M1636.2 2758.4V2780.4M227.4 2758.4V2769.4M307.9 2758.4V2769.4M388.4 2758.4V2769.4M468.9 2758.4V2769.4M549.5 2758.4V2769.4M630 2758.4V2769.4M710.5 2758.4V2769.4M791 2758.4V2769.4M871.5 2758.4V2769.4M952 2758.4V2769.4M1032.5 2758.4V2769.4M1113 2758.4V2769.4M1193.5 2758.4V2769.4M1274 2758.4V2769.4M1354.5 2758.4V2769.4M1435 2758.4V2769.4M1515.5 2758.4V2769.4M1596 2758.4V2769.4M1676.5 2758.4V2769.4" stroke="#000" stroke-width="3.2" fill="none"/>
<text x="189" y="2727.8" font-size="50" text-anchor="end">0</text>
<text x="189" y="2638.2" font-size="50" text-anchor="end">2</text>
<text x="189" y="2548.6" font-size="50" text-anchor="end">4</text>
<text x="189" y="2459.1" font-size="50" text-anchor="end">6</text>
<text x="189" y="2369.5" font-size="50" text-anchor="end">8</text>
<text x="189" y="2279.9" font-size="50" text-anchor="end">10</text>
<text x="189" y="2190.3" font-size="50" text-anchor="end">12</text>
<text x="189" y="2100.7" font-size="50" text-anchor="end">14</text>
<text x="189" y="2011.2" font-size="50" text-anchor="end">16</text>
<text x="189" y="1921.6" font-size="50" text-anchor="end">18</text>
<text x="189" y="1832" font-size="50" text-anchor="end">20</text>
<text x="189" y="1742.4" font-size="50" text-anchor="end">22</text>
<text x="189" y="1652.8" font-size="50" text-anchor="end">24</text>
<text x="267.7" y="2835.1" font-size="50" text-anchor="middle">0</text>
<text x="348.2" y="2835.1" font-size="50" text-anchor="middle">1</text>
<text x="428.7" y="2835.1" font-size="50" text-anchor="middle">2</text>
<text x="509.2" y="2835.1" font-size="50" text-anchor="middle">3</text>
<text x="589.7" y="2835.1" font-size="50" text-anchor="middle">4</text>
<text x="670.2" y="2835.1" font-size="50" text-anchor="middle">5</text>
<text x="750.7" y="2835.1" font-size="50" text-anchor="middle">6</text>
<text x="831.2" y="2835.1" font-size="50" text-anchor="middle">7</text>
<text x="911.7" y="2835.1" font-size="50" text-anchor="middle">8</text>
<text x="992.2" y="2835.1" font-size="50" text-anchor="middle">9</text>
<text x="1072.7" y="2835.1" font-size="50" text-anchor="middle">10</text>
<text x="1153.2" y="2835.1" font-size="50" text-anchor="middle">11</text>
<text x="1233.7" y="2835.1" font-size="50" text-anchor="middle">12</text>
<text x="1314.2" y="2835.1" font-size="50" text-anchor="middle">13</text>
<text x="1394.7" y="2835.1" font-size="50" text-anchor="middle">14</text>
<text x="1475.2" y="2835.1" font-size="50" text-anchor="middle">15</text>
<text x="1555.7" y="2835.1" font-size="50" text-anchor="middle">16</text>
<text x="1636.2" y="2835.1" font-size="50" text-anchor="middle">17</text>
<path d="M1345.2 1648.5H1372.5M1407 1648.5H1434.8" stroke="#555" stroke-width="3.0"/>
<rect x="1377.5" y="1636.2" width="24.5" height="24.5" fill="#4d4d4d"/>
<text x="1445.3" y="1661.5" font-size="38.5">NH<tspan font-size="25" dy="10.4">4</tspan><tspan font-size="25" dy="-26.6">+</tspan><tspan dy="16.2">-N</tspan></text>
<path d="M1345.2 1709.6H1372.5M1407 1709.6H1434.8" stroke="#111" stroke-width="3.0"/>
<circle cx="1389.7" cy="1709.6" r="12.5" fill="#ff0000"/>
<text x="1445.3" y="1722.6" font-size="38.5">NO<tspan font-size="25" dy="10.4">2</tspan><tspan font-size="25" dy="-26.6">-</tspan><tspan dy="16.2">-N</tspan></text>
<path d="M1345.2 1771.7H1372.5M1407 1771.7H1434.8" stroke="#888" stroke-width="3.0"/>
<path d="M1389.7 1754.4L1404.7 1780.4L1374.7 1780.4Z" fill="#0000ff"/>
<text x="1445.3" y="1784.7" font-size="38.5">NO<tspan font-size="25" dy="10.4">3</tspan><tspan font-size="25" dy="-26.6">-</tspan><tspan dy="16.2">-N</tspan></text>
<path d="M1345.2 1826.7H1372.5M1407 1826.7H1434.8" stroke="#222" stroke-width="2.2"/>
<path d="M1389.7 1809.4L1404.7 1835.4L1374.7 1835.4Z" fill="#008000"/>
<text x="1445.3" y="1839.7" font-size="38.5">TN</text>
<text transform="translate(67.6 2490.5) rotate(-90)" font-size="54" textLength="656" lengthAdjust="spacingAndGlyphs">Concentration of N (mg/L)</text>
<text x="850" y="2923" font-size="54" textLength="206.3" lengthAdjust="spacingAndGlyphs">Time (d)</text>
<text x="910" y="3059.7" font-size="76" font-family="Liberation Serif, serif" text-anchor="middle">(<tspan font-weight="bold">B</tspan>)</text>
<path d="M348.9 3603.1L359.8 4015.6M365.9 4046.6L366.3 4047.9M399.1 4073.9L403.5 4075.2M434.9 4080.9L473.3 4083.9M497 4071L552 3970M568.2 3969.5L621.6 4054.1M645.9 4070.1L684.7 4076.1M714.5 4070.8L756.9 4047.7M776.3 4025L835.9 3860.5M856 3839.1L897 3821.7M927 3820.2L966.8 3832.8M997.9 3840L1036.7 3846M1058.6 3863.2L1116.8 4003.6M1134.9 4029L1181.3 4070.3M1209.3 4080.1L1247.7 4078.1M1279.7 4077.3L1318.1 4077.3M1350.1 4078.1L1388.5 4080.1M1419.5 4075.4L1459.9 4060.6M1490.9 4055.7L1529.3 4057.4" stroke="#111" stroke-width="2.6" fill="none"/>
<rect x="337.8" y="3576.4" width="21.5" height="21.5" fill="#4d4d4d"/>
<rect x="349.5" y="4020.9" width="21.5" height="21.5" fill="#4d4d4d"/>
<rect x="361.2" y="4052.1" width="21.5" height="21.5" fill="#4d4d4d"/>
<rect x="372.9" y="4058.7" width="21.5" height="21.5" fill="#4d4d4d"/>
<rect x="408.1" y="4068.9" width="21.5" height="21.5" fill="#4d4d4d"/>
<rect x="478.6" y="4074.3" width="21.5" height="21.5" fill="#4d4d4d"/>
<rect x="549" y="3945.2" width="21.5" height="21.5" fill="#4d4d4d"/>
<rect x="619.4" y="4056.9" width="21.5" height="21.5" fill="#4d4d4d"/>
<rect x="689.8" y="4067.7" width="21.5" height="21.5" fill="#4d4d4d"/>
<rect x="760.2" y="4029.3" width="21.5" height="21.5" fill="#4d4d4d"/>
<rect x="830.6" y="3834.7" width="21.5" height="21.5" fill="#4d4d4d"/>
<rect x="901" y="3804.6" width="21.5" height="21.5" fill="#4d4d4d"/>
<rect x="971.4" y="3826.9" width="21.5" height="21.5" fill="#4d4d4d"/>
<rect x="1041.8" y="3837.7" width="21.5" height="21.5" fill="#4d4d4d"/>
<rect x="1112.2" y="4007.7" width="21.5" height="21.5" fill="#4d4d4d"/>
<rect x="1182.6" y="4070.1" width="21.5" height="21.5" fill="#4d4d4d"/>
<rect x="1253" y="4066.5" width="21.5" height="21.5" fill="#4d4d4d"/>
<rect x="1323.4" y="4066.5" width="21.5" height="21.5" fill="#4d4d4d"/>
<rect x="1393.8" y="4070.1" width="21.5" height="21.5" fill="#4d4d4d"/>
<rect x="1464.2" y="4044.3" width="21.5" height="21.5" fill="#4d4d4d"/>
<rect x="1534.6" y="4047.3" width="21.5" height="21.5" fill="#4d4d4d"/>
<path d="M348.5 3576.9V3597.3M337.8 3582.3H359.2M337.8 3591.9H359.2M360.2 4021.4V4041.8M349.5 4026.8H371M349.5 4036.4H371M372 4052.7V4073.1M361.2 4058.1H382.7M361.2 4067.7H382.7M418.9 4069.5V4089.9M408.1 4074.9H429.6M408.1 4084.5H429.6M630.1 4057.5V4077.9M619.4 4061.7H640.9M619.4 4073.7H640.9M841.3 3835.2V3855.6M830.6 3840.6H852.1M830.6 3850.2H852.1M911.7 3805.2V3825.6M901 3810.6H922.5M901 3820.2H922.5M1052.5 3838.2V3858.6M1041.8 3843.6H1063.2M1041.8 3853.2H1063.2M1122.9 4008.2V4028.6M1112.2 4013.6H1133.7M1112.2 4023.2H1133.7M1193.3 4070.7V4091.1M1182.6 4076.1H1204.1M1182.6 4085.7H1204.1M1404.5 4070.7V4091.1M1393.8 4076.1H1415.2M1393.8 4085.7H1415.2M1474.9 4044.8V4065.3M1464.2 4050.3H1485.7M1464.2 4059.9H1485.7M1545.3 4047.8V4068.3M1534.6 4053.3H1556.1M1534.6 4062.9H1556.1" stroke="#000" stroke-opacity="0.8" stroke-width="2.4" fill="none"/>
<path d="M399.6 4076.9L403 4076.4M433.5 4067.7L474.7 4049M505.2 4043.8L543.8 4047.1M575.7 4047.9L614.1 4046.6M646.1 4045.4L684.5 4043.7M716.5 4042.9L754.9 4042.6M786.9 4042.2L825.3 4041.5M857.3 4041L895.7 4040.3M927.7 4039.6L966.1 4038.6M998.1 4037.7L1036.5 4036.4M1060.2 4021.8L1115.2 3922.5M1136.4 3899.9L1179.8 3872.1M1207.7 3856.4L1249.3 3836.2M1278.8 3823.9L1319 3809.8M1349.2 3799.3L1389.4 3785.2M1418.4 3787.8L1461 3811.7M1490.5 3822.9L1529.7 3831.3" stroke="#111" stroke-width="2.6" fill="none"/>
<circle cx="348.5" cy="4073.7" r="11.2" fill="#ff0000"/>
<circle cx="360.2" cy="4073.7" r="11.2" fill="#ff0000"/>
<circle cx="372" cy="4068.9" r="11.2" fill="#ff0000"/>
<circle cx="383.7" cy="4079.1" r="11.2" fill="#ff0000"/>
<circle cx="418.9" cy="4074.3" r="11.2" fill="#ff0000"/>
<circle cx="489.3" cy="4042.4" r="11.2" fill="#ff0000"/>
<circle cx="559.7" cy="4048.4" r="11.2" fill="#ff0000"/>
<circle cx="630.1" cy="4046" r="11.2" fill="#ff0000"/>
<circle cx="700.5" cy="4043" r="11.2" fill="#ff0000"/>
<circle cx="770.9" cy="4042.4" r="11.2" fill="#ff0000"/>
<circle cx="841.3" cy="4041.2" r="11.2" fill="#ff0000"/>
<circle cx="911.7" cy="4040" r="11.2" fill="#ff0000"/>
<circle cx="982.1" cy="4038.2" r="11.2" fill="#ff0000"/>
<circle cx="1052.5" cy="4035.8" r="11.2" fill="#ff0000"/>
<circle cx="1122.9" cy="3908.5" r="11.2" fill="#ff0000"/>
<circle cx="1193.3" cy="3863.4" r="11.2" fill="#ff0000"/>
<circle cx="1263.7" cy="3829.2" r="11.2" fill="#ff0000"/>
<circle cx="1334.1" cy="3804.6" r="11.2" fill="#ff0000"/>
<circle cx="1404.5" cy="3779.9" r="11.2" fill="#ff0000"/>
<circle cx="1474.9" cy="3819.6" r="11.2" fill="#ff0000"/>
<circle cx="1545.3" cy="3834.6" r="11.2" fill="#ff0000"/>
<path d="M348.5 4063V4084.3M337.8 4070.7H359.2M337.8 4076.7H359.2M360.2 4063V4084.3M349.5 4070.7H371M349.5 4076.7H371M418.9 4063.6V4084.9M408.1 4071.3H429.6M408.1 4077.3H429.6M489.3 4031.8V4053.1M478.6 4039.4H500.1M478.6 4045.4H500.1M559.7 4037.8V4059.1M549 4045.4H570.5M549 4051.5H570.5M630.1 4035.4V4056.7M619.4 4043H640.9M619.4 4049.1H640.9M700.5 4032.4V4053.7M689.8 4040H711.2M689.8 4046H711.2M841.3 4030.6V4051.9M830.6 4038.2H852.1M830.6 4044.2H852.1M911.7 4029.4V4050.7M901 4037H922.5M901 4043H922.5M982.1 4027.6V4048.9M971.4 4035.2H992.9M971.4 4041.2H992.9M1122.9 3897.8V3919.1M1112.2 3905.5H1133.7M1112.2 3911.5H1133.7M1193.3 3852.8V3874.1M1182.6 3860.4H1204.1M1182.6 3866.4H1204.1M1263.7 3818.6V3839.8M1253 3826.2H1274.5M1253 3832.2H1274.5M1334.1 3793.9V3815.2M1323.4 3801.6H1344.9M1323.4 3807.6H1344.9M1404.5 3769.3V3790.6M1393.8 3776.9H1415.2M1393.8 3782.9H1415.2M1474.9 3808.9V3830.2M1464.2 3816.6H1485.7M1464.2 3822.6H1485.7M1545.3 3824V3845.2M1534.6 3831.6H1556.1M1534.6 3837.6H1556.1" stroke="#000" stroke-opacity="0.8" stroke-width="2.4" fill="none"/>
<path d="M352.2 3805.7L356.6 3824.4M361.5 3824.1L370.7 3704.6M372.8 3704.6L382.8 3885.9M392 3888.2L410.6 3857.3M424.7 3858.5L483.5 4011.3M504.3 4020.7L544.7 4005.9M575.1 4004.7L614.7 4015.9M642.3 4030.5L688.3 4069.4M716.3 4077.4L755.1 4071.8M783.7 4059.9L828.5 4026.8M857.3 4016.5L895.7 4014.9M927.3 4017.9L966.5 4027.3M996.6 4037.7L1038 4056.8M1060.6 4049.6L1114.8 3956.5M1137.1 3950.1L1179.1 3972M1207.2 3971.5L1249.8 3947.6M1277.1 3948.5L1320.7 3977.2M1350.1 3987.1L1388.5 3989.7M1420.3 3988.4L1459.1 3982.4M1489.9 3974.5L1530.3 3959.7" stroke="#333" stroke-width="1.9" fill="none"/>
<path d="M348.5 3775.7V3804.6M337.8 3775.7H359.2M337.8 3804.6H359.2M372 3671.8V3705.4M361.2 3671.8H382.7M361.2 3705.4H382.7M383.7 3889.4V3913.9M372.9 3889.9H394.4M372.9 3913.9H394.4M1545.3 3941.6V3966.2M1534.6 3942.1H1556.1M1534.6 3966.2H1556.1" stroke="#222" stroke-width="2.4" fill="none"/>
<path d="M348.5 3775.4L361.2 3797.5L335.8 3797.5Z" fill="#0000ff"/>
<path d="M360.2 3825.3L373 3847.4L347.5 3847.4Z" fill="#0000ff"/>
<path d="M372 3673.9L384.7 3696L359.2 3696Z" fill="#0000ff"/>
<path d="M383.7 3887.2L396.4 3909.2L371 3909.2Z" fill="#0000ff"/>
<path d="M418.9 3828.9L431.6 3851L406.2 3851Z" fill="#0000ff"/>
<path d="M489.3 4011.5L502 4033.6L476.6 4033.6Z" fill="#0000ff"/>
<path d="M559.7 3985.7L572.4 4007.7L547 4007.7Z" fill="#0000ff"/>
<path d="M630.1 4005.5L642.8 4027.6L617.4 4027.6Z" fill="#0000ff"/>
<path d="M700.5 4065L713.2 4087L687.8 4087Z" fill="#0000ff"/>
<path d="M770.9 4054.8L783.6 4076.8L758.2 4076.8Z" fill="#0000ff"/>
<path d="M841.3 4002.5L854 4024.6L828.6 4024.6Z" fill="#0000ff"/>
<path d="M911.7 3999.5L924.4 4021.6L899 4021.6Z" fill="#0000ff"/>
<path d="M982.1 4016.3L994.8 4038.4L969.4 4038.4Z" fill="#0000ff"/>
<path d="M1052.5 4048.8L1065.2 4070.8L1039.8 4070.8Z" fill="#0000ff"/>
<path d="M1122.9 3928L1135.6 3950.1L1110.2 3950.1Z" fill="#0000ff"/>
<path d="M1193.3 3964.7L1206 3986.7L1180.6 3986.7Z" fill="#0000ff"/>
<path d="M1263.7 3925L1276.4 3947.1L1251 3947.1Z" fill="#0000ff"/>
<path d="M1334.1 3971.3L1346.8 3993.3L1321.4 3993.3Z" fill="#0000ff"/>
<path d="M1404.5 3976.1L1417.2 3998.1L1391.8 3998.1Z" fill="#0000ff"/>
<path d="M1474.9 3965.3L1487.6 3987.3L1462.2 3987.3Z" fill="#0000ff"/>
<path d="M1545.3 3939.4L1558 3961.5L1532.6 3961.5Z" fill="#0000ff"/>
<path d="M360.2 3827.5V3847.4M349.5 3835.2H371M349.5 3844.8H371M418.9 3831.1V3851M408.1 3838.8H429.6M408.1 3848.4H429.6M489.3 4013.7V4033.6M478.6 4021.4H500.1M478.6 4031H500.1M559.7 3987.9V4007.7M549 3995.6H570.5M549 4005.2H570.5M630.1 4007.7V4027.6M619.4 4015.4H640.9M619.4 4025H640.9M700.5 4067.2V4087M689.8 4074.9H711.2M689.8 4084.5H711.2M841.3 4004.7V4024.6M830.6 4012.4H852.1M830.6 4022H852.1M911.7 4001.7V4021.6M901 4009.4H922.5M901 4019H922.5M982.1 4018.5V4038.4M971.4 4026.2H992.9M971.4 4035.8H992.9M1052.5 4051V4070.8M1041.8 4058.7H1063.2M1041.8 4068.3H1063.2M1122.9 3930.2V3950.1M1112.2 3937.9H1133.7M1112.2 3947.5H1133.7M1193.3 3966.9V3986.7M1182.6 3974.6H1204.1M1182.6 3984.2H1204.1M1263.7 3927.2V3947.1M1253 3934.9H1274.5M1253 3944.5H1274.5M1334.1 3973.5V3993.3M1323.4 3981.2H1344.9M1323.4 3990.8H1344.9M1404.5 3978.3V3998.1M1393.8 3986H1415.2M1393.8 3995.6H1415.2M1474.9 3967.5V3987.3M1464.2 3975.2H1485.7M1464.2 3984.8H1485.7" stroke="#000" stroke-opacity="0.8" stroke-width="2.4" fill="none"/>
<path d="M348.9 3284.7L359.9 3747.7M361.7 3747.8L370.5 3653.5M372.8 3653.5L382.9 3850.5M392.9 3853.3L409.7 3829.1M425.6 3830.5L482.6 3955.2M496.2 3955.3L552.8 3836.4M567.3 3836.1L622.5 3938.3M641.8 3963.3L688.8 4007.5M713.8 4009.5L757.6 3979.9M775.2 3955.6L837 3737.1M855.7 3714.7L897.3 3694.4M926 3694.6L967.8 3715.7M995.8 3731.1L1038.8 3756.7M1063.3 3753.1L1112.1 3699.3M1135.6 3697.2L1180.6 3731.7M1204.1 3729.6L1252.9 3675.8M1279 3668.7L1318.8 3680.9M1349.7 3681.9L1388.9 3672.5M1420.5 3669.4L1458.9 3670.7M1490.8 3669.4L1529.4 3665.2" stroke="#333" stroke-width="1.9" fill="none"/>
<path d="M348.5 3250.7V3286.8M337.8 3250.7H359.2M337.8 3286.8H359.2M372 3616.5V3658.6M361.2 3616.5H382.7M361.2 3658.6H382.7M383.7 3845.4V3887.5M372.9 3845.4H394.4M372.9 3887.5H394.4M1545.3 3649V3677.8M1534.6 3649H1556.1M1534.6 3677.8H1556.1" stroke="#222" stroke-width="2.4" fill="none"/>
<path d="M348.5 3254L361.2 3276.1L335.8 3276.1Z" fill="#008000"/>
<path d="M360.2 3749L373 3771.1L347.5 3771.1Z" fill="#008000"/>
<path d="M372 3622.9L384.7 3644.9L359.2 3644.9Z" fill="#008000"/>
<path d="M383.7 3851.7L396.4 3873.8L371 3873.8Z" fill="#008000"/>
<path d="M418.9 3801.3L431.6 3823.3L406.2 3823.3Z" fill="#008000"/>
<path d="M489.3 3955.1L502 3977.1L476.6 3977.1Z" fill="#008000"/>
<path d="M559.7 3807.3L572.4 3829.3L547 3829.3Z" fill="#008000"/>
<path d="M630.1 3937.6L642.8 3959.7L617.4 3959.7Z" fill="#008000"/>
<path d="M700.5 4003.7L713.2 4025.8L687.8 4025.8Z" fill="#008000"/>
<path d="M770.9 3956.3L783.6 3978.3L758.2 3978.3Z" fill="#008000"/>
<path d="M841.3 3707L854 3729L828.6 3729Z" fill="#008000"/>
<path d="M911.7 3672.7L924.4 3694.8L899 3694.8Z" fill="#008000"/>
<path d="M982.1 3708.2L994.8 3730.2L969.4 3730.2Z" fill="#008000"/>
<path d="M1052.5 3750.2L1065.2 3772.3L1039.8 3772.3Z" fill="#008000"/>
<path d="M1122.9 3672.7L1135.6 3694.8L1110.2 3694.8Z" fill="#008000"/>
<path d="M1193.3 3726.8L1206 3748.8L1180.6 3748.8Z" fill="#008000"/>
<path d="M1263.7 3649.3L1276.4 3671.4L1251 3671.4Z" fill="#008000"/>
<path d="M1334.1 3670.9L1346.8 3693L1321.4 3693Z" fill="#008000"/>
<path d="M1404.5 3654.1L1417.2 3676.2L1391.8 3676.2Z" fill="#008000"/>
<path d="M1474.9 3656.5L1487.6 3678.6L1462.2 3678.6Z" fill="#008000"/>
<path d="M1545.3 3648.7L1558 3670.8L1532.6 3670.8Z" fill="#008000"/>
<path d="M360.2 3751.2V3771.1M349.5 3758.9H371M349.5 3768.5H371M418.9 3803.5V3823.3M408.1 3811.2H429.6M408.1 3820.8H429.6M489.3 3957.3V3977.1M478.6 3965H500.1M478.6 3974.6H500.1M559.7 3809.5V3829.3M549 3817.2H570.5M549 3826.8H570.5M630.1 3939.8V3959.7M619.4 3947.5H640.9M619.4 3957.1H640.9M700.5 4005.9V4025.8M689.8 4013.6H711.2M689.8 4023.2H711.2M770.9 3958.5V3978.3M760.2 3966.2H781.7M760.2 3975.8H781.7M841.3 3709.2V3729M830.6 3716.9H852.1M830.6 3726.5H852.1M911.7 3674.9V3694.8M901 3682.6H922.5M901 3692.2H922.5M982.1 3710.4V3730.2M971.4 3718.1H992.9M971.4 3727.7H992.9M1052.5 3752.4V3772.3M1041.8 3760.1H1063.2M1041.8 3769.7H1063.2M1122.9 3674.9V3694.8M1112.2 3682.6H1133.7M1112.2 3692.2H1133.7M1193.3 3729V3748.8M1182.6 3736.7H1204.1M1182.6 3746.3H1204.1M1263.7 3651.5V3671.4M1253 3659.2H1274.5M1253 3668.8H1274.5M1334.1 3673.1V3693M1323.4 3680.8H1344.9M1323.4 3690.4H1344.9M1404.5 3656.3V3676.2M1393.8 3664H1415.2M1393.8 3673.6H1415.2M1474.9 3658.7V3678.6M1464.2 3666.4H1485.7M1464.2 3676H1485.7" stroke="#000" stroke-opacity="0.8" stroke-width="2.4" fill="none"/>
<rect x="313.2" y="3130.6" width="1266.3" height="1021" fill="none" stroke="#000" stroke-width="3.0"/>
<path d="M293.2 4091.7H313.2M293.2 3971.6H313.2M293.2 3851.4H313.2M293.2 3731.3H313.2M293.2 3611.1H313.2M293.2 3491H313.2M293.2 3370.9H313.2M293.2 3250.7H313.2M293.2 3130.6H313.2M303.2 4151.8H313.2M303.2 4031.6H313.2M303.2 3911.5H313.2M303.2 3791.3H313.2M303.2 3671.2H313.2M303.2 3551.1H313.2M303.2 3430.9H313.2M303.2 3310.8H313.2M303.2 3190.6H313.2M348.5 4151.6V4171.6M418.9 4151.6V4171.6M489.3 4151.6V4171.6M559.7 4151.6V4171.6M630.1 4151.6V4171.6M700.5 4151.6V4171.6M770.9 4151.6V4171.6M841.3 4151.6V4171.6M911.7 4151.6V4171.6M982.1 4151.6V4171.6M1052.5 4151.6V4171.6M1122.9 4151.6V4171.6M1193.3 4151.6V4171.6M1263.7 4151.6V4171.6M1334.1 4151.6V4171.6M1404.5 4151.6V4171.6M1474.9 4151.6V4171.6M1545.3 4151.6V4171.6M313.3 4151.6V4160.6M383.7 4151.6V4160.6M454.1 4151.6V4160.6M524.5 4151.6V4160.6M594.9 4151.6V4160.6M665.3 4151.6V4160.6M735.7 4151.6V4160.6M806.1 4151.6V4160.6M876.5 4151.6V4160.6M946.9 4151.6V4160.6M1017.3 4151.6V4160.6M1087.7 4151.6V4160.6M1158.1 4151.6V4160.6M1228.5 4151.6V4160.6M1298.9 4151.6V4160.6M1369.3 4151.6V4160.6M1439.7 4151.6V4160.6M1510.1 4151.6V4160.6M1580.5 4151.6V4160.6" stroke="#000" stroke-width="3.0" fill="none"/>
<text x="279" y="4104.2" font-size="43" text-anchor="end">0</text>
<text x="279" y="3984.1" font-size="43" text-anchor="end">2</text>
<text x="279" y="3863.9" font-size="43" text-anchor="end">4</text>
<text x="279" y="3743.8" font-size="43" text-anchor="end">6</text>
<text x="279" y="3623.6" font-size="43" text-anchor="end">8</text>
<text x="279" y="3503.5" font-size="43" text-anchor="end">10</text>
<text x="279" y="3383.4" font-size="43" text-anchor="end">12</text>
<text x="279" y="3263.2" font-size="43" text-anchor="end">14</text>
<text x="279" y="3143.1" font-size="43" text-anchor="end">16</text>
<text x="348.5" y="4218.9" font-size="43" text-anchor="middle">0</text>
<text x="418.9" y="4218.9" font-size="43" text-anchor="middle">1</text>
<text x="489.3" y="4218.9" font-size="43" text-anchor="middle">2</text>
<text x="559.7" y="4218.9" font-size="43" text-anchor="middle">3</text>
<text x="630.1" y="4218.9" font-size="43" text-anchor="middle">4</text>
<text x="700.5" y="4218.9" font-size="43" text-anchor="middle">5</text>
<text x="770.9" y="4218.9" font-size="43" text-anchor="middle">6</text>
<text x="841.3" y="4218.9" font-size="43" text-anchor="middle">7</text>
<text x="911.7" y="4218.9" font-size="43" text-anchor="middle">8</text>
<text x="982.1" y="4218.9" font-size="43" text-anchor="middle">9</text>
<text x="1052.5" y="4218.9" font-size="43" text-anchor="middle">10</text>
<text x="1122.9" y="4218.9" font-size="43" text-anchor="middle">11</text>
<text x="1193.3" y="4218.9" font-size="43" text-anchor="middle">12</text>
<text x="1263.7" y="4218.9" font-size="43" text-anchor="middle">13</text>
<text x="1334.1" y="4218.9" font-size="43" text-anchor="middle">14</text>
<text x="1404.5" y="4218.9" font-size="43" text-anchor="middle">15</text>
<text x="1474.9" y="4218.9" font-size="43" text-anchor="middle">16</text>
<text x="1545.3" y="4218.9" font-size="43" text-anchor="middle">17</text>
<path d="M1353.8 3220.6H1377.5M1409 3220.6H1431.9" stroke="#111" stroke-width="3.0"/>
<rect x="1382.5" y="3209.8" width="21.5" height="21.5" fill="#4d4d4d"/>
<text x="1441.6" y="3231.6" font-size="33">NH<tspan font-size="21.4" dy="8.9">4</tspan><tspan font-size="21.4" dy="-22.8">+</tspan><tspan dy="13.9">-N</tspan></text>
<path d="M1353.8 3274.4H1377.5M1409 3274.4H1431.9" stroke="#111" stroke-width="3.0"/>
<circle cx="1393.2" cy="3274.4" r="11.2" fill="#ff0000"/>
<text x="1441.6" y="3285.4" font-size="33">NO<tspan font-size="21.4" dy="8.9">2</tspan><tspan font-size="21.4" dy="-22.8">-</tspan><tspan dy="13.9">-N</tspan></text>
<path d="M1353.8 3328.1H1377.5M1409 3328.1H1431.9" stroke="#555" stroke-width="2.6"/>
<path d="M1393.2 3313.4L1405.9 3335.4L1380.5 3335.4Z" fill="#0000ff"/>
<text x="1441.6" y="3339.1" font-size="33">NO<tspan font-size="21.4" dy="8.9">3</tspan><tspan font-size="21.4" dy="-22.8">-</tspan><tspan dy="13.9">-N</tspan></text>
<path d="M1353.8 3377.2H1377.5M1409 3377.2H1431.9" stroke="#444" stroke-width="2.4"/>
<path d="M1393.2 3362.5L1405.9 3384.5L1380.5 3384.5Z" fill="#008000"/>
<text x="1441.6" y="3388.2" font-size="33">TN</text>
<text transform="translate(172.7 3869.7) rotate(-90)" font-size="46" textLength="529.6" lengthAdjust="spacingAndGlyphs">Concentration of N (mg/L)</text>
<text x="856.9" y="4296.2" font-size="47" textLength="181.7" lengthAdjust="spacingAndGlyphs">Time (d)</text>
<text x="910.1" y="4424.5" font-size="72" font-family="Liberation Serif, serif" text-anchor="middle">(<tspan font-weight="bold">C</tspan>)</text>
<text x="1015.4" y="3413.8" font-size="37" font-family="DejaVu Sans, sans-serif" fill="#262626" textLength="307.4" lengthAdjust="spacingAndGlyphs">Sodium succinate</text>
<text x="1120" y="3462.2" font-size="37" font-family="DejaVu Sans, sans-serif" fill="#262626" textLength="108.9" lengthAdjust="spacingAndGlyphs">added</text>
<path d="M1190.3 3484.5L1133.6 3631.7" stroke="#ff3333" stroke-width="2.6"/>
<path d="M1128.4 3645.2L1126.4 3626.7L1142.3 3632.9Z" fill="#ff3333"/>
</svg>
</body></html>
